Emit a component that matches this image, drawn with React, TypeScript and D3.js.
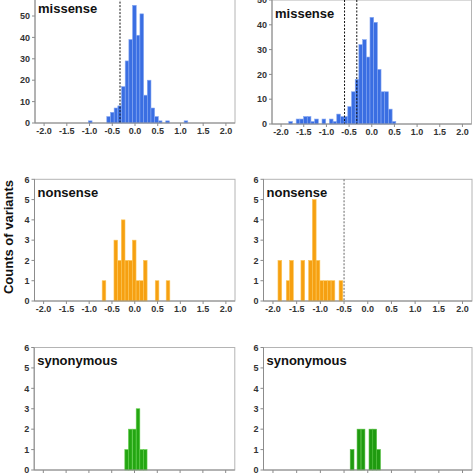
import * as d3 from "d3";

// shared x ticks (score axis)
const xTicks = [-2.0, -1.5, -1.0, -0.5, 0.0, 0.5, 1.0, 1.5, 2.0];

// missense, left panel: bin centres and counts
const misLeftBins = [-0.985, -0.58, -0.499, -0.418, -0.337, -0.256, -0.175, -0.094, -0.013, 0.068, 0.149, 0.23, 0.311, 0.392, 0.473, 0.554, 0.716, 1.121];
const misLeftCounts = [1, 3, 5, 7, 8, 17, 29, 39, 55, 41, 51, 13, 20, 7, 3, 1, 1, 1];
const misLeftCutoffs = [-0.33];

// missense, right panel
const misRightBins = [-1.789, -1.626, -1.545, -1.463, -1.382, -1.301, -1.219, -1.056, -0.894, -0.812, -0.731, -0.649, -0.568, -0.487, -0.405, -0.324, -0.243, -0.161, -0.08, 0.002, 0.083, 0.164, 0.246, 0.327, 0.409, 0.49];
const misRightCounts = [1, 2, 2, 3, 3, 1, 2, 2, 2, 1, 4, 3, 3, 7, 13, 18, 32, 34, 27, 43, 41, 22, 13, 13, 6, 1];
const misRightCutoffs = [-0.6, -0.33];

// nonsense, left panel
const nonLeftBins = [-0.675, -0.416, -0.335, -0.254, -0.173, -0.093, -0.012, 0.069, 0.15, 0.231, 0.49, 0.73];
const nonLeftCounts = [1, 3, 2, 4, 2, 2, 3, 1, 1, 2, 1, 1];

// nonsense, right panel
const nonRightBins = [-1.855, -1.68, -1.61, -1.37, -1.208, -1.129, -1.05, -0.971, -0.892, -0.813, -0.734, -0.566];
const nonRightCounts = [2, 1, 2, 2, 2, 5, 2, 1, 1, 1, 1, 1];
const nonRightCutoffs = [-0.5];

// synonymous, left panel
const synLeftBins = [-0.172, -0.092, -0.004, 0.077, 0.157, 0.235];
const synLeftCounts = [1, 2, 2, 3, 1, 1];

// synonymous, right panel
const synRightBins = [-0.33, -0.185, -0.1, 0.067, 0.146, 0.227];
const synRightCounts = [1, 2, 2, 2, 2, 1];

const yTicksMis60 = [0, 10, 20, 30, 40, 50, 60];
const yTicksMis50 = [0, 10, 20, 30, 40, 50];
const yTicksSmall = [0, 1, 2, 3, 4, 5, 6];

const FONT = "'Liberation Sans', Arial, sans-serif";

type PanelProps = {
  title: string;
  bins: number[];
  counts: number[];
  binWidth: number;
  yTicks: number[];
  cutoffs: number[];
  cutoffColor: string;
  left: number;
  right: number;
  top: number;
  bottom: number;
  fill: string;
  stroke: string;
};

function Panel(p: PanelProps) {
  const x = d3.scaleLinear().domain([-2.2, 2.2]).range([p.left, p.right]);
  const yMax = d3.max(p.yTicks) as number;
  const y = d3.scaleLinear().domain([0, yMax]).range([p.bottom, p.top]);
  const bars = p.bins.map((c, i) => ({ x0: c - p.binWidth / 2, x1: c + p.binWidth / 2, n: p.counts[i] }));
  return (
    <g>
      <rect x={p.left} y={p.top} width={p.right - p.left} height={p.bottom - p.top} fill="#fff" stroke="#b4b4b4" strokeWidth={1} />
      {bars.map((b, i) => (
        <rect
          key={i}
          x={x(b.x0)}
          y={y(b.n)}
          width={x(b.x1) - x(b.x0)}
          height={y(0) - y(b.n)}
          fill={p.fill}
          stroke={p.stroke}
          strokeWidth={0.6}
        />
      ))}
      {p.cutoffs.map((c, i) => (
        <line key={i} x1={x(c)} x2={x(c)} y1={p.top} y2={p.bottom} stroke={p.cutoffColor} strokeWidth={1} strokeDasharray="2,1.5" />
      ))}
      {/* x axis */}
      <line x1={p.left} x2={p.right} y1={p.bottom} y2={p.bottom} stroke="#8c8c8c" strokeWidth={1} />
      {xTicks.map((t) => (
        <g key={t}>
          <line x1={x(t)} x2={x(t)} y1={p.bottom} y2={p.bottom + 3} stroke="#8c8c8c" />
          <text x={x(t)} y={p.bottom + 11} textAnchor="middle" fontSize={9} fontWeight="bold" fill="#333" fontFamily={FONT}>
            {t.toFixed(1)}
          </text>
        </g>
      ))}
      {/* y axis */}
      <line x1={p.left} x2={p.left} y1={p.top} y2={p.bottom} stroke="#8c8c8c" strokeWidth={1} />
      {p.yTicks.map((t) => (
        <g key={t}>
          <line x1={p.left - 3} x2={p.left} y1={y(t)} y2={y(t)} stroke="#8c8c8c" />
          <text x={p.left - 5} y={y(t) + 3.2} textAnchor="end" fontSize={9} fontWeight="bold" fill="#333" fontFamily={FONT}>
            {t}
          </text>
        </g>
      ))}
      <text x={p.left + 3} y={p.top + 17.5 < 12.7 ? 12.7 : p.top + 17.5} fontSize={13} fontWeight="bold" fill="#111" fontFamily={FONT}>
        {p.title}
      </text>
    </g>
  );
}

export default function App() {
  const blue = { fill: "#3a6ee2", stroke: "#86a8f2" };
  const orange = { fill: "#f6a011", stroke: "#fcc557" };
  const green = { fill: "#24a612", stroke: "#62cf4c" };
  const greenDark = { fill: "#1f9a10", stroke: "#4fbd3b" };
  return (
    <svg width={474} height={474} style={{ position: "absolute", left: 0, top: 0, background: "#fff" }}>
      <Panel title="missense" bins={misLeftBins} counts={misLeftCounts} binWidth={0.081} yTicks={yTicksMis60}
        cutoffs={misLeftCutoffs} cutoffColor="#111" left={35} right={235} top={-5.4} bottom={123} {...blue} />
      <Panel title="missense" bins={misRightBins} counts={misRightCounts} binWidth={0.0814} yTicks={yTicksMis50}
        cutoffs={misRightCutoffs} cutoffColor="#111" left={272} right={471.5} top={0} bottom={124} {...blue} />
      <Panel title="nonsense" bins={nonLeftBins} counts={nonLeftCounts} binWidth={0.08} yTicks={yTicksSmall}
        cutoffs={[]} cutoffColor="#111" left={34.5} right={235} top={179.3} bottom={301} {...orange} />
      <Panel title="nonsense" bins={nonRightBins} counts={nonRightCounts} binWidth={0.079} yTicks={yTicksSmall}
        cutoffs={nonRightCutoffs} cutoffColor="#666" left={263.5} right={472} top={179.3} bottom={301} {...orange} />
      <Panel title="synonymous" bins={synLeftBins} counts={synLeftCounts} binWidth={0.08} yTicks={yTicksSmall}
        cutoffs={[]} cutoffColor="#111" left={34.2} right={234.8} top={347.5} bottom={470} {...green} />
      <Panel title="synonymous" bins={synRightBins} counts={synRightCounts} binWidth={0.08} yTicks={yTicksSmall}
        cutoffs={[]} cutoffColor="#111" left={263.5} right={472} top={347.5} bottom={470} {...greenDark} />
      <text transform="translate(13,237) rotate(-90)" textAnchor="middle" fontSize={13} fontWeight="bold" fill="#111" fontFamily={FONT}>
        Counts of variants
      </text>
    </svg>
  );
}
